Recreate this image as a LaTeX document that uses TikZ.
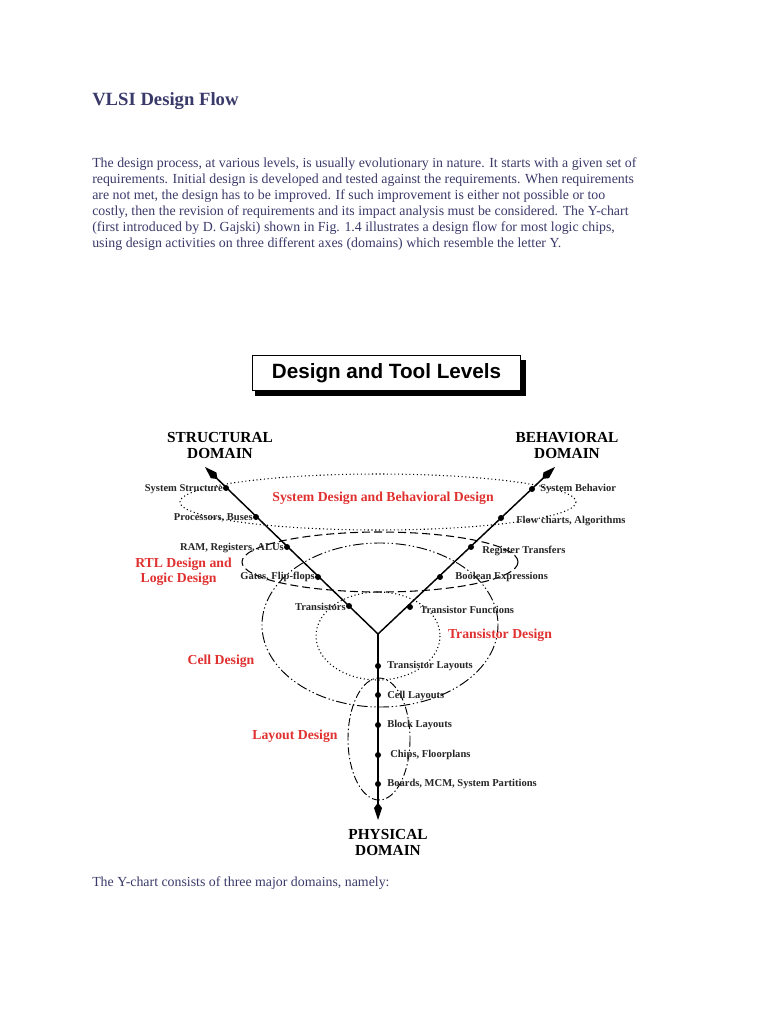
\documentclass[tikz,border=0pt]{standalone}
\usepackage{fontspec}
\setmainfont{Liberation Serif}
\newfontfamily\arialf{Liberation Sans}
\usetikzlibrary{arrows.meta}
\definecolor{txt}{HTML}{3A3A6A}
\definecolor{redl}{HTML}{E03030}
\begin{document}
\begin{tikzpicture}[x=0.75pt,y=-0.75pt,
 para/.style={anchor=west,inner sep=0,text=txt,font=\fontsize{10.4}{12}\selectfont},
 lbl/.style={inner sep=0,font=\bfseries\fontsize{7.9}{8}\selectfont,text=black!85},
 dom/.style={inner sep=0,align=center,font=\bfseries\fontsize{11.5}{12}\selectfont},
 red/.style={inner sep=0,align=left,text=redl,font=\bfseries\fontsize{10.3}{11}\selectfont},
 dotn/.style={circle,fill=black,inner sep=0,minimum size=4.5pt},
 arm/.style={line width=1.1pt},
 tip/.style={-{Kite[length=13pt,width=6pt,inset=4pt]}}]
\useasboundingbox (0,0) rectangle (768,1024);
\node[para,font=\bfseries\fontsize{14}{15}\selectfont] (h) at (92,101) {VLSI Design Flow};
\node[para] (p1) at (92,164) {The design process, at various levels, is usually evolutionary in nature. It starts with a given set of};
\node[para] (p2) at (92,180) {requirements. Initial design is developed and tested against the requirements. When requirements};
\node[para] (p3) at (92,196) {are not met, the design has to be improved. If such improvement is either not possible or too};
\node[para] (p4) at (92,212) {costly, then the revision of requirements and its impact analysis must be considered. The Y-chart};
\node[para] (p5) at (92,228) {(first introduced by D. Gajski) shown in Fig. 1.4 illustrates a design flow for most logic chips,};
\node[para] (p6) at (92,244) {using design activities on three different axes (domains) which resemble the letter Y.};
\node[para] (p7) at (92,883) {The Y-chart consists of three major domains, namely:};
% title box
\fill (255,360) rectangle (526,396);
\node[draw,fill=white,line width=0.8pt,minimum width=201pt,minimum height=26pt,font=\arialf\bfseries\fontsize{15.5}{16}\selectfont] (tt) at (386.5,373) {Design and Tool Levels};
% ellipses
\draw[dotted,line width=0.8pt] (378,502) ellipse [x radius=198,y radius=28];
\draw[dashed,dash pattern=on 6pt off 3pt,line width=0.8pt] (380,562) ellipse [x radius=138,y radius=30];
\draw[dash pattern=on 8pt off 2pt on 1pt off 2pt on 1pt off 2pt,line width=0.7pt] (380,625) ellipse [x radius=118,y radius=82];
\draw[dotted,line width=0.8pt] (378,636) ellipse [x radius=62,y radius=44];
\draw[dash pattern=on 6pt off 2pt on 1pt off 2pt,line width=0.7pt] (379,739) ellipse [x radius=31,y radius=61];
% Y
\coordinate (c) at (378,634);
\coordinate (ls) at (205,467);
\coordinate (rs) at (555,467);
\coordinate (ps) at (378,820);
\draw[arm,tip] (c) -- (ls);
\draw[arm,tip] (c) -- (rs);
\draw[arm,tip] (c) -- (ps);
% dots left
\node[dotn] (l1) at (226,488) {}; \node[lbl,anchor=east] at (223,489) {System Structure};
\node[dotn] (l2) at (256,517) {}; \node[lbl,anchor=east] at (253,518) {Processors, Buses};
\node[dotn] (l3) at (287,547) {}; \node[lbl,anchor=east] at (284,548) {RAM, Registers, ALUs};
\node[dotn] (l4) at (318,577) {}; \node[lbl,anchor=east] at (315,577) {Gates, Flip-flops};
\node[dotn] (l5) at (349,606) {}; \node[lbl,anchor=east] at (346,607) {Transistors};
% right
\node[dotn] (r1) at (532,489) {}; \node[lbl,anchor=west] at (540,489) {System Behavior};
\node[dotn] (r2) at (501,518) {}; \node[lbl,anchor=west] at (516,521) {Flow charts, Algorithms};
\node[dotn] (r3) at (471,547) {}; \node[lbl,anchor=west] at (482,551) {Register Transfers};
\node[dotn] (r4) at (440,577) {}; \node[lbl,anchor=west] at (455,577) {Boolean Expressions};
\node[dotn] (r5) at (410,607) {}; \node[lbl,anchor=west] at (420,610) {Transistor Functions};
% vertical
\node[dotn] (v1) at (378,666) {}; \node[lbl,anchor=west] at (387,666) {Transistor Layouts};
\node[dotn] (v2) at (378,695) {}; \node[lbl,anchor=west] at (387,696) {Cell Layouts};
\node[dotn] (v3) at (378,725) {}; \node[lbl,anchor=west] at (387,725) {Block Layouts};
\node[dotn] (v4) at (378,755) {}; \node[lbl,anchor=west] at (390,755) {Chips, Floorplans};
\node[dotn] (v5) at (378,784) {}; \node[lbl,anchor=west] at (387,784) {Boards, MCM, System Partitions};
% domains
\node[dom] (sd) at (220,445) {STRUCTURAL\\DOMAIN};
\node[dom] (bd) at (567,445) {BEHAVIORAL\\DOMAIN};
\node[dom] (pd) at (388,842) {PHYSICAL\\DOMAIN};
% red labels
\node[red] (sy) at (383,498) {System Design and Behavioral Design};
\node[red,anchor=west] (rtl) at (135,572) {RTL Design and\\\hspace*{4pt}Logic Design};
\node[red] (td) at (500,635) {Transistor Design};
\node[red] (cd) at (221,661) {Cell Design};
\node[red] (ld) at (295,736) {Layout Design};
\end{tikzpicture}
\end{document}
